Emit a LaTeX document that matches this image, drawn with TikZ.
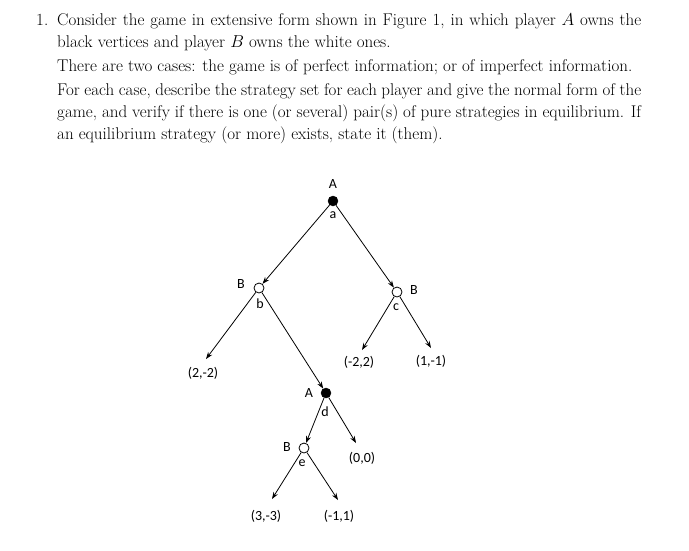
\documentclass[tikz,border=0pt]{standalone}
\usepackage{fontspec}
\newfontfamily\lblfont{Carlito}
\usetikzlibrary{arrows.meta}
\begin{document}
\begin{tikzpicture}[x=1pt,y=-1pt,
  para/.style={anchor=base west,inner sep=0pt,text width=584pt,align=justify,font=\fontsize{17}{22}\selectfont},
  blk/.style={circle,fill=black,draw=black,minimum size=10pt,inner sep=0pt},
  wht/.style={circle,fill=white,draw=black,thick,minimum size=10pt,inner sep=0pt},
  lbl/.style={font=\lblfont\fontsize{14}{16}\selectfont,inner sep=0pt},
  edge/.style={draw,line width=0.8pt,-{Stealth[length=7pt,width=5pt]}}]
\useasboundingbox (0,0) rectangle (689,550);
\node[anchor=base west,inner sep=0pt,font=\fontsize{17}{22}\selectfont] (num) at (36,25) {1.};
\node[para] (p1) at (57,25) {Consider the game in extensive form shown in Figure 1, in which player $A$ owns the\linebreak black vertices and player $B$ owns the white ones.};
\node[para] (p2) at (57,71) {There are two cases: the game is of perfect information; or of imperfect information.};
\node[para] (p3) at (57,95) {For each case, describe the strategy set for each player and give the normal form of the\linebreak game, and verify if there is one (or several) pair(s) of pure strategies in equilibrium. If\linebreak an equilibrium strategy (or more) exists, state it (them).};
\node[blk] (a) at (333,201) {};
\node[wht] (b) at (259,288) {};
\node[wht] (c) at (397,292) {};
\node[blk] (d) at (326,393) {};
\node[wht] (e) at (304,448) {};
\coordinate (t1) at (206,359);
\coordinate (t2) at (362,350);
\coordinate (t3) at (431,348);
\coordinate (t4) at (356,443);
\coordinate (t5) at (272,499);
\coordinate (t6) at (338,500);
\node[lbl] (la) at (333,184) {A};
\node[lbl] (sa) at (333,215) {a};
\node[lbl] (lb) at (241,284) {B};
\node[lbl] (sb) at (260,304) {b};
\node[lbl] (lc) at (414,290) {B};
\node[lbl] (sc) at (396,307) {c};
\node[lbl] (ld) at (309,393) {A};
\node[lbl] (sd) at (325,412) {d};
\node[lbl] (le) at (287,447) {B};
\node[lbl] (se) at (302,463) {e};
\node[lbl] (o1) at (203,373) {(2,-2)};
\node[lbl] (o2) at (359,362) {(-2,2)};
\node[lbl] (o3) at (431,361) {(1,-1)};
\node[lbl] (o4) at (362,458) {(0,0)};
\node[lbl] (o5) at (266,516) {(3,-3)};
\node[lbl] (o6) at (339,516) {(-1,1)};
\path[edge] (a) -- (b);
\path[edge] (a) -- (c);
\path[edge] (b) -- (t1);
\path[edge] (b) -- (d);
\path[edge] (c) -- (t2);
\path[edge] (c) -- (t3);
\path[edge] (d) -- (e);
\path[edge] (d) -- (t4);
\path[edge] (e) -- (t5);
\path[edge] (e) -- (t6);
\end{tikzpicture}
\end{document}
